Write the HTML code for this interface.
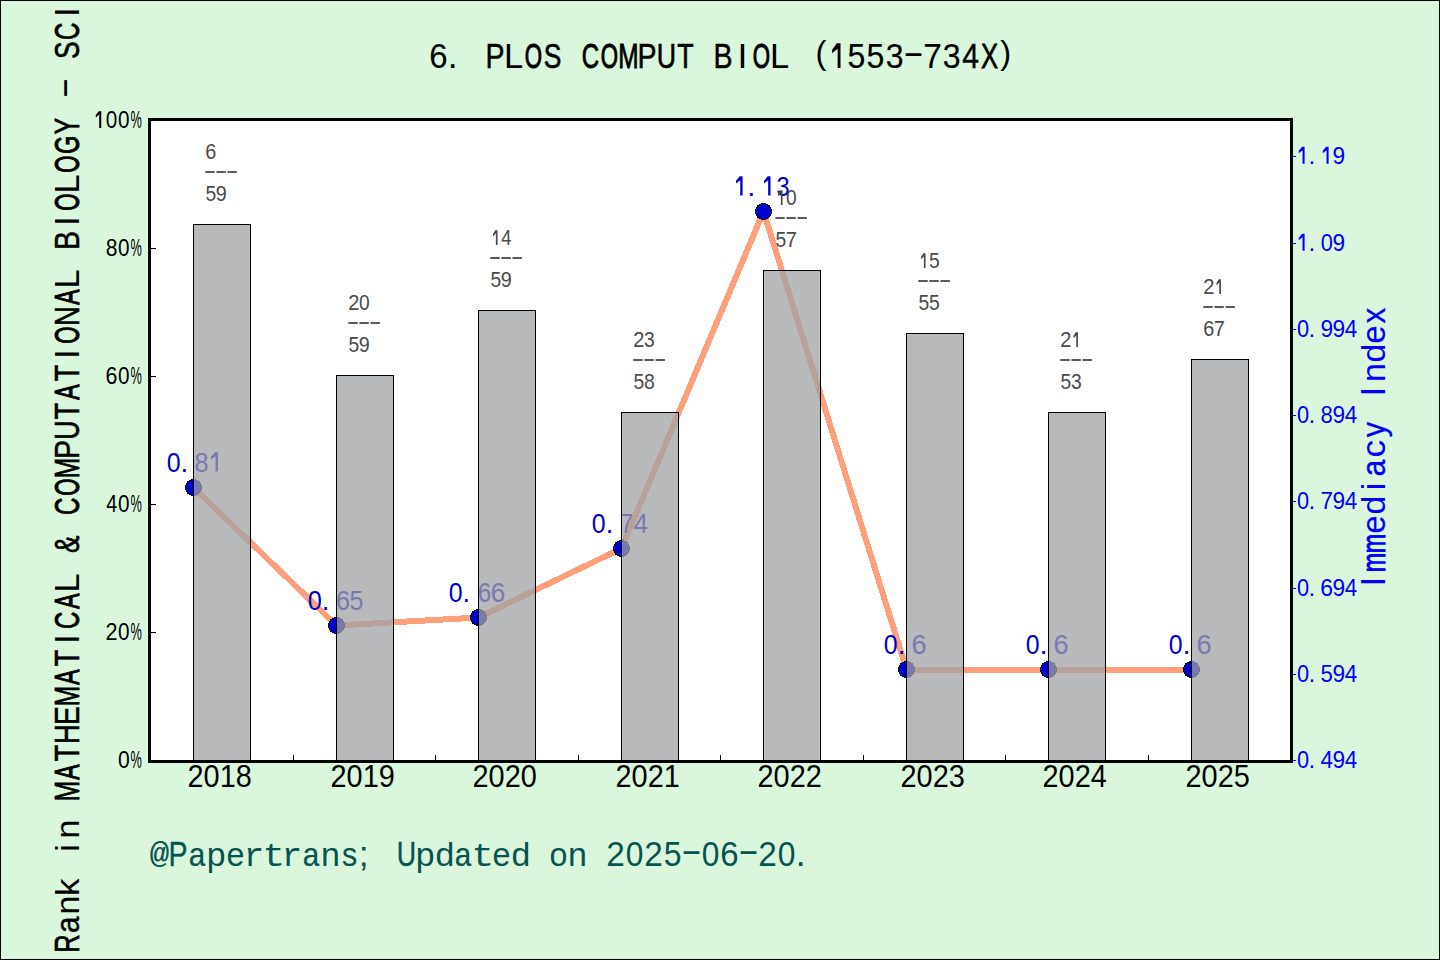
<!DOCTYPE html><html><head><meta charset="utf-8"><style>html,body{margin:0;padding:0;background:#daf7de;}svg{display:block;font-family:"Liberation Sans", sans-serif;}</style></head><body>
<svg width="1440" height="960" viewBox="0 0 1440 960">
<rect x="0" y="0" width="1440" height="960" fill="#daf7de"/>
<rect x="0.5" y="0.5" width="1439" height="959" fill="none" stroke="#000" stroke-width="1"/>
<rect x="149.50" y="119.50" width="1142.00" height="642.00" fill="#fff"/>
<polyline points="193.50,487.50 336.50,625.50 478.50,617.50 621.50,548.50 763.50,211.50 906.50,669.50 1048.50,669.50 1191.50,669.50" fill="none" stroke="#ffa07a" stroke-width="6" stroke-linejoin="round" stroke-linecap="butt" shape-rendering="crispEdges"/>
<circle cx="193.50" cy="487.50" r="8" fill="#0000cd" stroke="#000" stroke-width="1" shape-rendering="crispEdges"/>
<circle cx="336.50" cy="625.50" r="8" fill="#0000cd" stroke="#000" stroke-width="1" shape-rendering="crispEdges"/>
<circle cx="478.50" cy="617.50" r="8" fill="#0000cd" stroke="#000" stroke-width="1" shape-rendering="crispEdges"/>
<circle cx="621.50" cy="548.50" r="8" fill="#0000cd" stroke="#000" stroke-width="1" shape-rendering="crispEdges"/>
<circle cx="763.50" cy="211.50" r="8" fill="#0000cd" stroke="#000" stroke-width="1" shape-rendering="crispEdges"/>
<circle cx="906.50" cy="669.50" r="8" fill="#0000cd" stroke="#000" stroke-width="1" shape-rendering="crispEdges"/>
<circle cx="1048.50" cy="669.50" r="8" fill="#0000cd" stroke="#000" stroke-width="1" shape-rendering="crispEdges"/>
<circle cx="1191.50" cy="669.50" r="8" fill="#0000cd" stroke="#000" stroke-width="1" shape-rendering="crispEdges"/>
<g font-size="27.5" fill="#0000cd"><text transform="translate(173.75,471.50) scale(0.905,1)" x="-7.65">0</text><text transform="translate(184.40,471.50) scale(1.000,1)" x="-3.82">.</text><text transform="translate(201.65,471.50) scale(0.922,1)" x="-7.65">8</text><path d="M217.90 452.31L217.90 471.50L215.56 471.50L215.56 456.14L211.00 459.60L211.00 456.79L215.09 452.31Z" fill="#0000cd"/></g>
<g font-size="27.5" fill="#0000cd"><text transform="translate(314.82,609.50) scale(0.924,1)" x="-7.65">0</text><text transform="translate(325.55,609.50) scale(1.000,1)" x="-3.82">.</text><text transform="translate(343.25,609.50) scale(0.922,1)" x="-7.74">6</text><text transform="translate(356.55,609.50) scale(0.913,1)" x="-7.62">5</text></g>
<g font-size="27.5" fill="#0000cd"><text transform="translate(455.75,601.50) scale(0.905,1)" x="-7.65">0</text><text transform="translate(466.40,601.50) scale(1.000,1)" x="-3.82">.</text><text transform="translate(484.50,601.50) scale(0.883,1)" x="-7.74">6</text><text transform="translate(498.15,601.50) scale(0.954,1)" x="-7.74">6</text></g>
<g font-size="27.5" fill="#0000cd"><text transform="translate(598.75,532.50) scale(0.905,1)" x="-7.65">0</text><text transform="translate(609.55,532.50) scale(1.000,1)" x="-3.82">.</text><text transform="translate(626.75,532.50) scale(0.824,1)" x="-7.66">7</text><text transform="translate(640.75,532.50) scale(0.931,1)" x="-7.56">4</text></g>
<g font-size="27.5" fill="#0000cd"><path d="M742.60 176.31L742.60 195.50L740.26 195.50L740.26 180.14L736.00 183.60L736.00 180.79L739.80 176.31Z" fill="#0000cd"/><text transform="translate(751.30,195.50) scale(1.000,1)" x="-3.82">.</text><path d="M770.50 176.31L770.50 195.50L768.16 195.50L768.16 180.14L764.00 183.60L764.00 180.79L767.70 176.31Z" fill="#0000cd"/><text transform="translate(782.90,195.50) scale(0.859,1)" x="-7.57">3</text></g>
<g font-size="27.5" fill="#0000cd"><text transform="translate(890.75,653.50) scale(0.905,1)" x="-7.65">0</text><text transform="translate(901.45,653.50) scale(1.000,1)" x="-3.82">.</text><text transform="translate(919.10,653.50) scale(0.993,1)" x="-7.74">6</text></g>
<g font-size="27.5" fill="#0000cd"><text transform="translate(1032.75,653.50) scale(0.905,1)" x="-7.65">0</text><text transform="translate(1043.45,653.50) scale(1.000,1)" x="-3.82">.</text><text transform="translate(1061.10,653.50) scale(0.993,1)" x="-7.74">6</text></g>
<g font-size="27.5" fill="#0000cd"><text transform="translate(1175.75,653.50) scale(0.905,1)" x="-7.65">0</text><text transform="translate(1186.45,653.50) scale(1.000,1)" x="-3.82">.</text><text transform="translate(1204.10,653.50) scale(0.993,1)" x="-7.74">6</text></g>
<rect x="193.5" y="224.5" width="57.0" height="536.0" fill="#a0a1a4" fill-opacity="0.75" stroke="#000" stroke-width="1"/>
<rect x="336.5" y="375.5" width="57.0" height="385.0" fill="#a0a1a4" fill-opacity="0.75" stroke="#000" stroke-width="1"/>
<rect x="478.5" y="310.5" width="57.0" height="450.0" fill="#a0a1a4" fill-opacity="0.75" stroke="#000" stroke-width="1"/>
<rect x="621.5" y="412.5" width="57.0" height="348.0" fill="#a0a1a4" fill-opacity="0.75" stroke="#000" stroke-width="1"/>
<rect x="763.5" y="270.5" width="57.0" height="490.0" fill="#a0a1a4" fill-opacity="0.75" stroke="#000" stroke-width="1"/>
<rect x="906.5" y="333.5" width="57.0" height="427.0" fill="#a0a1a4" fill-opacity="0.75" stroke="#000" stroke-width="1"/>
<rect x="1048.5" y="412.5" width="57.0" height="348.0" fill="#a0a1a4" fill-opacity="0.75" stroke="#000" stroke-width="1"/>
<rect x="1191.5" y="359.5" width="57.0" height="401.0" fill="#a0a1a4" fill-opacity="0.75" stroke="#000" stroke-width="1"/>
<g font-size="21.20" fill="#4a4a4a"><text transform="translate(210.90,159.10) scale(0.936,1.000)" x="-5.97">6</text></g>
<g font-size="21.20" fill="#4a4a4a"><text transform="translate(210.90,201.10) scale(0.911,1.000)" x="-5.87">5</text><text transform="translate(221.30,201.10) scale(0.935,1.000)" x="-5.89">9</text></g>
<rect x="205.30" y="171" width="9.4" height="2" fill="#5a5a5a"/>
<rect x="216.40" y="171" width="9.4" height="2" fill="#5a5a5a"/>
<rect x="227.50" y="171" width="9.4" height="2" fill="#5a5a5a"/>
<g font-size="21.20" fill="#4a4a4a"><text transform="translate(353.90,310.10) scale(0.948,1.000)" x="-5.90">2</text><text transform="translate(364.30,310.10) scale(0.903,1.000)" x="-5.90">0</text></g>
<g font-size="21.20" fill="#4a4a4a"><text transform="translate(353.90,352.10) scale(0.911,1.000)" x="-5.87">5</text><text transform="translate(364.30,352.10) scale(0.935,1.000)" x="-5.89">9</text></g>
<rect x="348.30" y="322" width="9.4" height="2" fill="#5a5a5a"/>
<rect x="359.40" y="322" width="9.4" height="2" fill="#5a5a5a"/>
<rect x="370.50" y="322" width="9.4" height="2" fill="#5a5a5a"/>
<g font-size="21.20" fill="#4a4a4a"><path d="M497.56 230.26L497.56 245.10L495.87 245.10L495.87 233.52L492.99 236.20L492.99 234.08L495.36 230.26Z" fill="#4a4a4a" stroke="none"/><text transform="translate(506.30,245.10) scale(0.857,1.000)" x="-5.83">4</text></g>
<g font-size="21.20" fill="#4a4a4a"><text transform="translate(495.90,287.10) scale(0.911,1.000)" x="-5.87">5</text><text transform="translate(506.30,287.10) scale(0.935,1.000)" x="-5.89">9</text></g>
<rect x="490.30" y="257" width="9.4" height="2" fill="#5a5a5a"/>
<rect x="501.40" y="257" width="9.4" height="2" fill="#5a5a5a"/>
<rect x="512.50" y="257" width="9.4" height="2" fill="#5a5a5a"/>
<g font-size="21.20" fill="#4a4a4a"><text transform="translate(638.90,347.10) scale(0.948,1.000)" x="-5.90">2</text><text transform="translate(649.30,347.10) scale(0.911,1.000)" x="-5.83">3</text></g>
<g font-size="21.20" fill="#4a4a4a"><text transform="translate(638.90,389.10) scale(0.911,1.000)" x="-5.87">5</text><text transform="translate(649.30,389.10) scale(0.920,1.000)" x="-5.90">8</text></g>
<rect x="633.30" y="359" width="9.4" height="2" fill="#5a5a5a"/>
<rect x="644.40" y="359" width="9.4" height="2" fill="#5a5a5a"/>
<rect x="655.50" y="359" width="9.4" height="2" fill="#5a5a5a"/>
<g font-size="21.20" fill="#4a4a4a"><path d="M782.56 190.26L782.56 205.10L780.87 205.10L780.87 193.52L777.99 196.20L777.99 194.08L780.36 190.26Z" fill="#4a4a4a" stroke="none"/><text transform="translate(791.30,205.10) scale(0.903,1.000)" x="-5.90">0</text></g>
<g font-size="21.20" fill="#4a4a4a"><text transform="translate(780.90,247.10) scale(0.911,1.000)" x="-5.87">5</text><text transform="translate(791.30,247.10) scale(0.950,1.000)" x="-5.91">7</text></g>
<rect x="775.30" y="217" width="9.4" height="2" fill="#5a5a5a"/>
<rect x="786.40" y="217" width="9.4" height="2" fill="#5a5a5a"/>
<rect x="797.50" y="217" width="9.4" height="2" fill="#5a5a5a"/>
<g font-size="21.20" fill="#4a4a4a"><path d="M925.56 253.26L925.56 268.10L923.87 268.10L923.87 256.52L920.99 259.20L920.99 257.08L923.36 253.26Z" fill="#4a4a4a" stroke="none"/><text transform="translate(934.30,268.10) scale(0.911,1.000)" x="-5.87">5</text></g>
<g font-size="21.20" fill="#4a4a4a"><text transform="translate(923.90,310.10) scale(0.911,1.000)" x="-5.87">5</text><text transform="translate(934.30,310.10) scale(0.911,1.000)" x="-5.87">5</text></g>
<rect x="918.30" y="280" width="9.4" height="2" fill="#5a5a5a"/>
<rect x="929.40" y="280" width="9.4" height="2" fill="#5a5a5a"/>
<rect x="940.50" y="280" width="9.4" height="2" fill="#5a5a5a"/>
<g font-size="21.20" fill="#4a4a4a"><text transform="translate(1065.90,347.10) scale(0.948,1.000)" x="-5.90">2</text><path d="M1077.96 332.26L1077.96 347.10L1076.27 347.10L1076.27 335.52L1073.39 338.20L1073.39 336.08L1075.76 332.26Z" fill="#4a4a4a" stroke="none"/></g>
<g font-size="21.20" fill="#4a4a4a"><text transform="translate(1065.90,389.10) scale(0.911,1.000)" x="-5.87">5</text><text transform="translate(1076.30,389.10) scale(0.911,1.000)" x="-5.83">3</text></g>
<rect x="1060.30" y="359" width="9.4" height="2" fill="#5a5a5a"/>
<rect x="1071.40" y="359" width="9.4" height="2" fill="#5a5a5a"/>
<rect x="1082.50" y="359" width="9.4" height="2" fill="#5a5a5a"/>
<g font-size="21.20" fill="#4a4a4a"><text transform="translate(1208.90,294.10) scale(0.948,1.000)" x="-5.90">2</text><path d="M1220.96 279.26L1220.96 294.10L1219.27 294.10L1219.27 282.52L1216.39 285.20L1216.39 283.08L1218.76 279.26Z" fill="#4a4a4a" stroke="none"/></g>
<g font-size="21.20" fill="#4a4a4a"><text transform="translate(1208.90,336.10) scale(0.936,1.000)" x="-5.97">6</text><text transform="translate(1219.30,336.10) scale(0.950,1.000)" x="-5.91">7</text></g>
<rect x="1203.30" y="306" width="9.4" height="2" fill="#5a5a5a"/>
<rect x="1214.40" y="306" width="9.4" height="2" fill="#5a5a5a"/>
<rect x="1225.50" y="306" width="9.4" height="2" fill="#5a5a5a"/>
<rect x="148" y="118" width="3" height="645" fill="#000"/>
<rect x="1290" y="118" width="3" height="645" fill="#000"/>
<rect x="148" y="118" width="1145" height="3" fill="#000"/>
<rect x="148" y="760" width="1145" height="3" fill="#000"/>
<rect x="151" y="248" width="5" height="1" fill="#000"/>
<rect x="151" y="376" width="5" height="1" fill="#000"/>
<rect x="151" y="504" width="5" height="1" fill="#000"/>
<rect x="151" y="632" width="5" height="1" fill="#000"/>
<rect x="293" y="755" width="1" height="5" fill="#000"/>
<rect x="435" y="755" width="1" height="5" fill="#000"/>
<rect x="578" y="755" width="1" height="5" fill="#000"/>
<rect x="720" y="755" width="1" height="5" fill="#000"/>
<rect x="863" y="755" width="1" height="5" fill="#000"/>
<rect x="1005" y="755" width="1" height="5" fill="#000"/>
<rect x="1148" y="755" width="1" height="5" fill="#000"/>
<rect x="1293" y="760" width="3" height="1" fill="#0000ff"/>
<rect x="1293" y="674" width="3" height="1" fill="#0000ff"/>
<rect x="1293" y="588" width="3" height="1" fill="#0000ff"/>
<rect x="1293" y="501" width="3" height="1" fill="#0000ff"/>
<rect x="1293" y="415" width="3" height="1" fill="#0000ff"/>
<rect x="1293" y="329" width="3" height="1" fill="#0000ff"/>
<rect x="1293" y="243" width="3" height="1" fill="#0000ff"/>
<rect x="1293" y="156" width="3" height="1" fill="#0000ff"/>
<g font-size="24" fill="#000"><text transform="translate(136.10,767.90) scale(0.530,1)" x="-10.67">%</text><text transform="translate(123.85,767.90) scale(0.880,1)" x="-6.67">0</text></g>
<g font-size="24" fill="#000"><text transform="translate(136.10,639.90) scale(0.530,1)" x="-10.67">%</text><text transform="translate(123.75,639.90) scale(0.863,1)" x="-6.67">0</text><text transform="translate(111.55,639.90) scale(0.905,1)" x="-6.67">2</text></g>
<g font-size="24" fill="#000"><text transform="translate(136.10,511.90) scale(0.530,1)" x="-10.67">%</text><text transform="translate(123.75,511.90) scale(0.863,1)" x="-6.67">0</text><text transform="translate(111.55,511.90) scale(0.819,1)" x="-6.60">4</text></g>
<g font-size="24" fill="#000"><text transform="translate(136.10,383.90) scale(0.530,1)" x="-10.67">%</text><text transform="translate(123.75,383.90) scale(0.863,1)" x="-6.67">0</text><text transform="translate(111.55,383.90) scale(0.894,1)" x="-6.76">6</text></g>
<g font-size="24" fill="#000"><text transform="translate(136.10,255.90) scale(0.530,1)" x="-10.67">%</text><text transform="translate(123.75,255.90) scale(0.863,1)" x="-6.67">0</text><text transform="translate(111.55,255.90) scale(0.879,1)" x="-6.67">8</text></g>
<g font-size="24" fill="#000"><text transform="translate(136.10,127.90) scale(0.530,1)" x="-10.67">%</text><text transform="translate(123.75,127.90) scale(0.863,1)" x="-6.67">0</text><text transform="translate(111.55,127.90) scale(0.863,1)" x="-6.67">0</text><path d="M101.25 111.15L101.25 127.90L99.21 127.90L99.21 114.50L95.80 117.51L95.80 115.07L98.80 111.15Z" fill="#000"/></g>
<g font-size="24.4" fill="#0000ff"><text transform="translate(1303.00,767.80) scale(0.892,1)" x="-6.79">0</text><text transform="translate(1311.90,767.80) scale(1.000,1)" x="-3.39">.</text><text transform="translate(1326.70,767.80) scale(0.919,1)" x="-6.71">4</text><text transform="translate(1338.80,767.80) scale(0.932,1)" x="-6.78">9</text><text transform="translate(1350.90,767.80) scale(0.919,1)" x="-6.71">4</text></g>
<g font-size="24.4" fill="#0000ff"><text transform="translate(1303.00,681.80) scale(0.892,1)" x="-6.79">0</text><text transform="translate(1311.90,681.80) scale(1.000,1)" x="-3.39">.</text><text transform="translate(1326.70,681.80) scale(0.908,1)" x="-6.76">5</text><text transform="translate(1338.80,681.80) scale(0.932,1)" x="-6.78">9</text><text transform="translate(1350.90,681.80) scale(0.919,1)" x="-6.71">4</text></g>
<g font-size="24.4" fill="#0000ff"><text transform="translate(1303.00,595.80) scale(0.892,1)" x="-6.79">0</text><text transform="translate(1311.90,595.80) scale(1.000,1)" x="-3.39">.</text><text transform="translate(1326.70,595.80) scale(0.941,1)" x="-6.87">6</text><text transform="translate(1338.80,595.80) scale(0.932,1)" x="-6.78">9</text><text transform="translate(1350.90,595.80) scale(0.919,1)" x="-6.71">4</text></g>
<g font-size="24.4" fill="#0000ff"><text transform="translate(1303.00,508.80) scale(0.892,1)" x="-6.79">0</text><text transform="translate(1311.90,508.80) scale(1.000,1)" x="-3.39">.</text><text transform="translate(1326.70,508.80) scale(0.920,1)" x="-6.80">7</text><text transform="translate(1338.80,508.80) scale(0.932,1)" x="-6.78">9</text><text transform="translate(1350.90,508.80) scale(0.919,1)" x="-6.71">4</text></g>
<g font-size="24.4" fill="#0000ff"><text transform="translate(1303.00,422.80) scale(0.892,1)" x="-6.79">0</text><text transform="translate(1311.90,422.80) scale(1.000,1)" x="-3.39">.</text><text transform="translate(1326.70,422.80) scale(0.908,1)" x="-6.79">8</text><text transform="translate(1338.80,422.80) scale(0.932,1)" x="-6.78">9</text><text transform="translate(1350.90,422.80) scale(0.919,1)" x="-6.71">4</text></g>
<g font-size="24.4" fill="#0000ff"><text transform="translate(1303.00,336.80) scale(0.892,1)" x="-6.79">0</text><text transform="translate(1311.90,336.80) scale(1.000,1)" x="-3.39">.</text><text transform="translate(1326.70,336.80) scale(0.932,1)" x="-6.78">9</text><text transform="translate(1338.80,336.80) scale(0.932,1)" x="-6.78">9</text><text transform="translate(1350.90,336.80) scale(0.919,1)" x="-6.71">4</text></g>
<g font-size="24.4" fill="#0000ff"><path d="M1304.60 233.77L1304.60 250.80L1302.53 250.80L1302.53 237.18L1298.75 240.24L1298.75 237.75L1302.11 233.77Z" fill="#0000ff"/><text transform="translate(1311.90,250.80) scale(1.000,1)" x="-3.39">.</text><text transform="translate(1326.70,250.80) scale(0.892,1)" x="-6.79">0</text><text transform="translate(1338.80,250.80) scale(0.932,1)" x="-6.78">9</text></g>
<g font-size="24.4" fill="#0000ff"><path d="M1304.60 146.77L1304.60 163.80L1302.53 163.80L1302.53 150.18L1298.75 153.24L1298.75 150.75L1302.11 146.77Z" fill="#0000ff"/><text transform="translate(1311.90,163.80) scale(1.000,1)" x="-3.39">.</text><path d="M1328.60 146.77L1328.60 163.80L1326.53 163.80L1326.53 150.18L1322.80 153.24L1322.80 150.75L1326.11 146.77Z" fill="#0000ff"/><text transform="translate(1338.80,163.80) scale(0.932,1)" x="-6.78">9</text></g>
<text transform="scale(0.93,1)" x="236.24" y="787.2" font-size="31.1" fill="#000" text-anchor="middle">2018</text>
<text transform="scale(0.93,1)" x="390.00" y="787.2" font-size="31.1" fill="#000" text-anchor="middle">2019</text>
<text transform="scale(0.93,1)" x="542.69" y="787.2" font-size="31.1" fill="#000" text-anchor="middle">2020</text>
<text transform="scale(0.93,1)" x="696.45" y="787.2" font-size="31.1" fill="#000" text-anchor="middle">2021</text>
<text transform="scale(0.93,1)" x="849.14" y="787.2" font-size="31.1" fill="#000" text-anchor="middle">2022</text>
<text transform="scale(0.93,1)" x="1002.90" y="787.2" font-size="31.1" fill="#000" text-anchor="middle">2023</text>
<text transform="scale(0.93,1)" x="1155.59" y="787.2" font-size="31.1" fill="#000" text-anchor="middle">2024</text>
<text transform="scale(0.93,1)" x="1309.35" y="787.2" font-size="31.1" fill="#000" text-anchor="middle">2025</text>
<g font-size="35.50" fill="#000"><text transform="translate(438.45,68.10) scale(0.928,1.000)" x="-9.99" stroke="#000" stroke-width="0.11" vector-effect="non-scaling-stroke">6</text><text transform="translate(452.68,68.10) scale(1.000,1.000)" x="-4.93">.</text><text transform="translate(495.45,68.10) scale(0.804,1.000)" x="-12.36" stroke="#000" stroke-width="0.44" vector-effect="non-scaling-stroke">P</text><text transform="translate(514.45,68.10) scale(0.971,1.000)" x="-10.74">L</text><text transform="translate(533.45,68.10) scale(0.627,1.000)" x="-13.80" stroke="#000" stroke-width="0.90" vector-effect="non-scaling-stroke">O</text><text transform="translate(552.45,68.10) scale(0.744,1.000)" x="-11.83" stroke="#000" stroke-width="0.60" vector-effect="non-scaling-stroke">S</text><text transform="translate(590.45,68.10) scale(0.676,1.000)" x="-13.04" stroke="#000" stroke-width="0.77" vector-effect="non-scaling-stroke">C</text><text transform="translate(609.45,68.10) scale(0.627,1.000)" x="-13.80" stroke="#000" stroke-width="0.90" vector-effect="non-scaling-stroke">O</text><text transform="translate(628.45,68.10) scale(0.688,1.000)" x="-14.79" stroke="#000" stroke-width="0.74" vector-effect="non-scaling-stroke">M</text><text transform="translate(647.45,68.10) scale(0.804,1.000)" x="-12.36" stroke="#000" stroke-width="0.44" vector-effect="non-scaling-stroke">P</text><text transform="translate(666.45,68.10) scale(0.754,1.000)" x="-12.82" stroke="#000" stroke-width="0.57" vector-effect="non-scaling-stroke">U</text><text transform="translate(685.45,68.10) scale(0.757,1.000)" x="-10.83" stroke="#000" stroke-width="0.56" vector-effect="non-scaling-stroke">T</text><text transform="translate(723.45,68.10) scale(0.804,1.000)" x="-12.36" stroke="#000" stroke-width="0.44" vector-effect="non-scaling-stroke">B</text><text transform="translate(742.45,68.10) scale(1.000,1.000)" x="-4.93">I</text><text transform="translate(761.45,68.10) scale(0.627,1.000)" x="-13.80" stroke="#000" stroke-width="0.90" vector-effect="non-scaling-stroke">O</text><text transform="translate(780.45,68.10) scale(0.971,1.000)" x="-10.74">L</text><text transform="translate(821.72,63.91) scale(0.920,0.920)" x="-6.91">(</text><path d="M840.49 43.25L840.49 68.10L837.65 68.10L837.65 48.72L832.13 53.19L832.13 49.64L836.80 43.25Z" fill="#000" stroke="none"/><text transform="translate(856.45,68.10) scale(0.903,1.000)" x="-9.84" stroke="#000" stroke-width="0.17" vector-effect="non-scaling-stroke">5</text><text transform="translate(875.45,68.10) scale(0.903,1.000)" x="-9.84" stroke="#000" stroke-width="0.17" vector-effect="non-scaling-stroke">5</text><text transform="translate(894.45,68.10) scale(0.903,1.000)" x="-9.77" stroke="#000" stroke-width="0.17" vector-effect="non-scaling-stroke">3</text><text transform="translate(913.45,64.05) scale(1.820,1.000)" x="-5.91">-</text><text transform="translate(932.45,68.10) scale(0.942,1.000)" x="-9.89" stroke="#000" stroke-width="0.07" vector-effect="non-scaling-stroke">7</text><text transform="translate(951.45,68.10) scale(0.903,1.000)" x="-9.77" stroke="#000" stroke-width="0.17" vector-effect="non-scaling-stroke">3</text><text transform="translate(970.45,68.10) scale(0.850,1.000)" x="-9.76" stroke="#000" stroke-width="0.32" vector-effect="non-scaling-stroke">4</text><text transform="translate(989.45,68.10) scale(0.721,1.000)" x="-11.87" stroke="#000" stroke-width="0.66" vector-effect="non-scaling-stroke">X</text><text transform="translate(1004.88,63.91) scale(0.920,0.920)" x="-4.91">)</text></g>
<g font-size="35.50" fill="#06544f"><text transform="translate(159.50,862.80) scale(0.910,0.850)" x="-10.69" font-family="Liberation Mono" stroke="#06544f" stroke-width="0.20" vector-effect="non-scaling-stroke">@</text><text transform="translate(178.50,866.00) scale(0.804,1.000)" x="-12.36" stroke="#06544f" stroke-width="0.28" vector-effect="non-scaling-stroke">P</text><text transform="translate(197.50,866.00) scale(0.834,0.920)" x="-10.63" stroke="#06544f" stroke-width="0.20" vector-effect="non-scaling-stroke">a</text><text transform="translate(216.50,866.00) scale(0.952,0.920)" x="-10.27">p</text><text transform="translate(235.50,866.00) scale(0.912,0.920)" x="-9.84">e</text><text transform="translate(254.50,866.00) scale(0.956,0.920)" x="-11.15" font-family="Liberation Mono" stroke="#06544f" stroke-width="0.09" vector-effect="non-scaling-stroke">r</text><text transform="translate(273.50,866.00) scale(1.060,0.920)" x="-10.46" font-family="Liberation Mono">t</text><text transform="translate(292.50,866.00) scale(0.956,0.920)" x="-11.15" font-family="Liberation Mono" stroke="#06544f" stroke-width="0.09" vector-effect="non-scaling-stroke">r</text><text transform="translate(311.50,866.00) scale(0.834,0.920)" x="-10.63" stroke="#06544f" stroke-width="0.20" vector-effect="non-scaling-stroke">a</text><text transform="translate(330.50,866.00) scale(0.958,0.920)" x="-9.90">n</text><text transform="translate(349.50,866.00) scale(0.859,0.920)" x="-8.73" stroke="#06544f" stroke-width="0.13" vector-effect="non-scaling-stroke">s</text><text transform="translate(363.78,866.00) scale(1.000,1.000)" x="-4.93">;</text><text transform="translate(406.50,866.00) scale(0.754,1.000)" x="-12.82" stroke="#06544f" stroke-width="0.41" vector-effect="non-scaling-stroke">U</text><text transform="translate(425.50,866.00) scale(0.952,0.920)" x="-10.27">p</text><text transform="translate(444.50,866.00) scale(0.952,0.920)" x="-9.47">d</text><text transform="translate(463.50,866.00) scale(0.834,0.920)" x="-10.63" stroke="#06544f" stroke-width="0.20" vector-effect="non-scaling-stroke">a</text><text transform="translate(482.50,866.00) scale(1.060,0.920)" x="-10.46" font-family="Liberation Mono">t</text><text transform="translate(501.50,866.00) scale(0.912,0.920)" x="-9.84">e</text><text transform="translate(520.50,866.00) scale(0.952,0.920)" x="-9.47">d</text><text transform="translate(558.50,866.00) scale(0.907,0.920)" x="-9.87">o</text><text transform="translate(577.50,866.00) scale(0.958,0.920)" x="-9.90">n</text><text transform="translate(615.50,866.00) scale(0.940,1.000)" x="-9.87">2</text><text transform="translate(634.50,866.00) scale(0.896,1.000)" x="-9.87">0</text><text transform="translate(653.50,866.00) scale(0.940,1.000)" x="-9.87">2</text><text transform="translate(672.50,866.00) scale(0.903,1.000)" x="-9.84">5</text><text transform="translate(691.50,861.95) scale(1.820,1.000)" x="-5.91">-</text><text transform="translate(710.50,866.00) scale(0.896,1.000)" x="-9.87">0</text><text transform="translate(729.50,866.00) scale(0.928,1.000)" x="-9.99">6</text><text transform="translate(748.50,861.95) scale(1.820,1.000)" x="-5.91">-</text><text transform="translate(767.50,866.00) scale(0.940,1.000)" x="-9.87">2</text><text transform="translate(786.50,866.00) scale(0.896,1.000)" x="-9.87">0</text><text transform="translate(800.73,866.00) scale(1.000,1.000)" x="-4.93">.</text></g>
<g transform="translate(78.70,0) rotate(-90)" font-size="35.50" fill="#000"><text transform="translate(-943.10,0.00) scale(0.721,1.000)" x="-13.45" stroke="#000" stroke-width="0.66" vector-effect="non-scaling-stroke">R</text><text transform="translate(-924.10,0.00) scale(0.834,0.920)" x="-10.63" stroke="#000" stroke-width="0.36" vector-effect="non-scaling-stroke">a</text><text transform="translate(-905.10,0.00) scale(0.958,0.920)" x="-9.90">n</text><text transform="translate(-886.10,0.00) scale(0.986,0.920)" x="-10.10">k</text><text transform="translate(-848.10,0.00) scale(1.000,0.920)" x="-3.93">i</text><text transform="translate(-829.10,0.00) scale(0.958,0.920)" x="-9.90">n</text><text transform="translate(-791.10,0.00) scale(0.688,1.000)" x="-14.79" stroke="#000" stroke-width="0.74" vector-effect="non-scaling-stroke">M</text><text transform="translate(-772.10,0.00) scale(0.646,1.000)" x="-11.84" stroke="#000" stroke-width="0.85" vector-effect="non-scaling-stroke">A</text><text transform="translate(-753.10,0.00) scale(0.757,1.000)" x="-10.83" stroke="#000" stroke-width="0.56" vector-effect="non-scaling-stroke">T</text><text transform="translate(-734.10,0.00) scale(0.767,1.000)" x="-12.83" stroke="#000" stroke-width="0.54" vector-effect="non-scaling-stroke">H</text><text transform="translate(-715.10,0.00) scale(0.790,1.000)" x="-12.53" stroke="#000" stroke-width="0.47" vector-effect="non-scaling-stroke">E</text><text transform="translate(-696.10,0.00) scale(0.688,1.000)" x="-14.79" stroke="#000" stroke-width="0.74" vector-effect="non-scaling-stroke">M</text><text transform="translate(-677.10,0.00) scale(0.646,1.000)" x="-11.84" stroke="#000" stroke-width="0.85" vector-effect="non-scaling-stroke">A</text><text transform="translate(-658.10,0.00) scale(0.757,1.000)" x="-10.83" stroke="#000" stroke-width="0.56" vector-effect="non-scaling-stroke">T</text><text transform="translate(-639.10,0.00) scale(1.000,1.000)" x="-4.93">I</text><text transform="translate(-620.10,0.00) scale(0.676,1.000)" x="-13.04" stroke="#000" stroke-width="0.77" vector-effect="non-scaling-stroke">C</text><text transform="translate(-601.10,0.00) scale(0.646,1.000)" x="-11.84" stroke="#000" stroke-width="0.85" vector-effect="non-scaling-stroke">A</text><text transform="translate(-582.10,0.00) scale(0.971,1.000)" x="-10.74">L</text><text transform="translate(-544.10,0.00) scale(0.730,1.000)" x="-12.19" stroke="#000" stroke-width="0.63" vector-effect="non-scaling-stroke">&amp;</text><text transform="translate(-506.10,0.00) scale(0.676,1.000)" x="-13.04" stroke="#000" stroke-width="0.77" vector-effect="non-scaling-stroke">C</text><text transform="translate(-487.10,0.00) scale(0.627,1.000)" x="-13.80" stroke="#000" stroke-width="0.90" vector-effect="non-scaling-stroke">O</text><text transform="translate(-468.10,0.00) scale(0.688,1.000)" x="-14.79" stroke="#000" stroke-width="0.74" vector-effect="non-scaling-stroke">M</text><text transform="translate(-449.10,0.00) scale(0.804,1.000)" x="-12.36" stroke="#000" stroke-width="0.44" vector-effect="non-scaling-stroke">P</text><text transform="translate(-430.10,0.00) scale(0.754,1.000)" x="-12.82" stroke="#000" stroke-width="0.57" vector-effect="non-scaling-stroke">U</text><text transform="translate(-411.10,0.00) scale(0.757,1.000)" x="-10.83" stroke="#000" stroke-width="0.56" vector-effect="non-scaling-stroke">T</text><text transform="translate(-392.10,0.00) scale(0.646,1.000)" x="-11.84" stroke="#000" stroke-width="0.85" vector-effect="non-scaling-stroke">A</text><text transform="translate(-373.10,0.00) scale(0.757,1.000)" x="-10.83" stroke="#000" stroke-width="0.56" vector-effect="non-scaling-stroke">T</text><text transform="translate(-354.10,0.00) scale(1.000,1.000)" x="-4.93">I</text><text transform="translate(-335.10,0.00) scale(0.627,1.000)" x="-13.80" stroke="#000" stroke-width="0.90" vector-effect="non-scaling-stroke">O</text><text transform="translate(-316.10,0.00) scale(0.767,1.000)" x="-12.83" stroke="#000" stroke-width="0.54" vector-effect="non-scaling-stroke">N</text><text transform="translate(-297.10,0.00) scale(0.646,1.000)" x="-11.84" stroke="#000" stroke-width="0.85" vector-effect="non-scaling-stroke">A</text><text transform="translate(-278.10,0.00) scale(0.971,1.000)" x="-10.74">L</text><text transform="translate(-240.10,0.00) scale(0.804,1.000)" x="-12.36" stroke="#000" stroke-width="0.44" vector-effect="non-scaling-stroke">B</text><text transform="translate(-221.10,0.00) scale(1.000,1.000)" x="-4.93">I</text><text transform="translate(-202.10,0.00) scale(0.627,1.000)" x="-13.80" stroke="#000" stroke-width="0.90" vector-effect="non-scaling-stroke">O</text><text transform="translate(-183.10,0.00) scale(0.971,1.000)" x="-10.74">L</text><text transform="translate(-164.10,0.00) scale(0.627,1.000)" x="-13.80" stroke="#000" stroke-width="0.90" vector-effect="non-scaling-stroke">O</text><text transform="translate(-145.10,0.00) scale(0.656,1.000)" x="-13.37" stroke="#000" stroke-width="0.83" vector-effect="non-scaling-stroke">G</text><text transform="translate(-126.10,0.00) scale(0.687,1.000)" x="-11.84" stroke="#000" stroke-width="0.74" vector-effect="non-scaling-stroke">Y</text><text transform="translate(-88.10,-4.05) scale(1.820,1.000)" x="-5.91">-</text><text transform="translate(-50.10,0.00) scale(0.744,1.000)" x="-11.83" stroke="#000" stroke-width="0.60" vector-effect="non-scaling-stroke">S</text><text transform="translate(-31.10,0.00) scale(0.676,1.000)" x="-13.04" stroke="#000" stroke-width="0.77" vector-effect="non-scaling-stroke">C</text><text transform="translate(-12.10,0.00) scale(1.000,1.000)" x="-4.93">I</text></g>
<g transform="translate(1384.70,0) rotate(-90)" font-size="35.50" fill="#0000ff"><text transform="translate(-581.50,0.00) scale(1.000,1.000)" x="-4.93">I</text><text transform="translate(-562.50,0.00) scale(0.657,0.920)" x="-14.79" stroke="#0000ff" stroke-width="0.82" vector-effect="non-scaling-stroke">m</text><text transform="translate(-543.50,0.00) scale(0.657,0.920)" x="-14.79" stroke="#0000ff" stroke-width="0.82" vector-effect="non-scaling-stroke">m</text><text transform="translate(-524.50,0.00) scale(0.912,0.920)" x="-9.84" stroke="#0000ff" stroke-width="0.15" vector-effect="non-scaling-stroke">e</text><text transform="translate(-505.50,0.00) scale(0.952,0.920)" x="-9.47">d</text><text transform="translate(-486.50,0.00) scale(1.000,0.920)" x="-3.93">i</text><text transform="translate(-467.50,0.00) scale(0.834,0.920)" x="-10.63" stroke="#0000ff" stroke-width="0.36" vector-effect="non-scaling-stroke">a</text><text transform="translate(-448.50,0.00) scale(0.993,0.920)" x="-9.16">c</text><text transform="translate(-429.50,0.00) scale(0.864,0.920)" x="-8.88" stroke="#0000ff" stroke-width="0.28" vector-effect="non-scaling-stroke">y</text><text transform="translate(-391.50,0.00) scale(1.000,1.000)" x="-4.93">I</text><text transform="translate(-372.50,0.00) scale(0.958,0.920)" x="-9.90">n</text><text transform="translate(-353.50,0.00) scale(0.952,0.920)" x="-9.47">d</text><text transform="translate(-334.50,0.00) scale(0.912,0.920)" x="-9.84" stroke="#0000ff" stroke-width="0.15" vector-effect="non-scaling-stroke">e</text><text transform="translate(-315.50,0.00) scale(0.896,0.920)" x="-8.88" stroke="#0000ff" stroke-width="0.19" vector-effect="non-scaling-stroke">x</text></g>
</svg></body></html>
